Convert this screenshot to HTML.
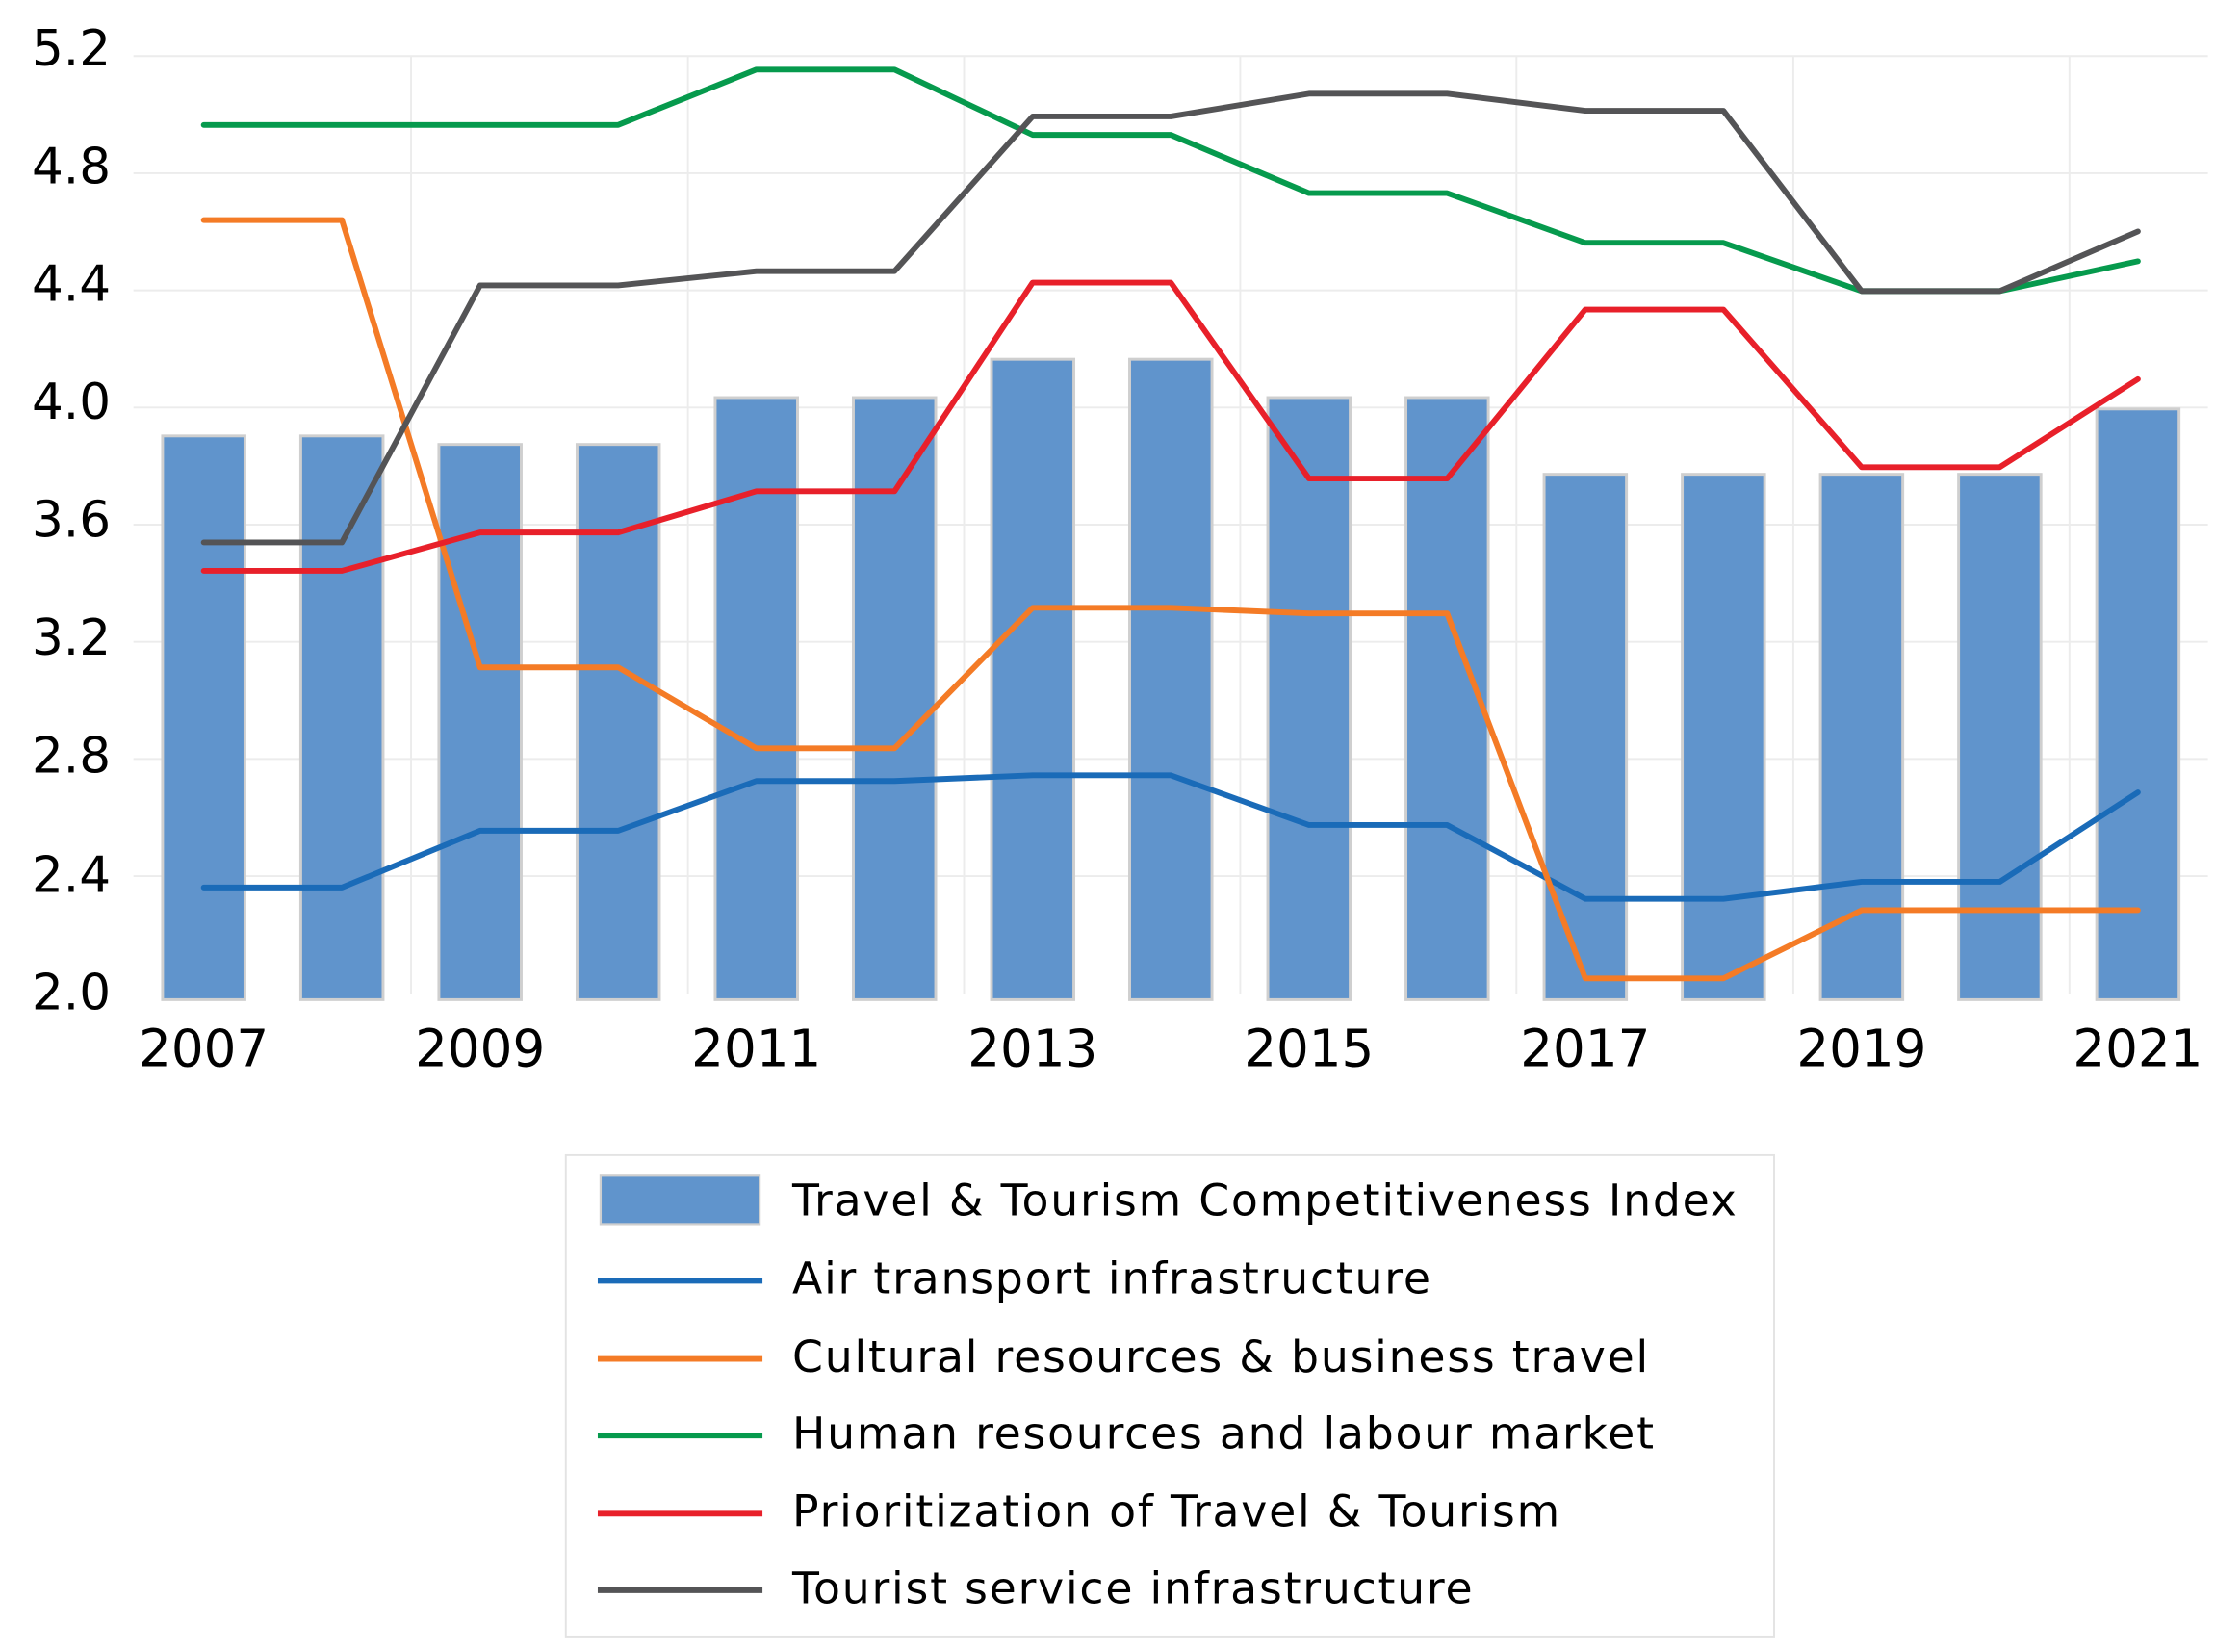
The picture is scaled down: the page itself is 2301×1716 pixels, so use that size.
<!DOCTYPE html>
<html><head><meta charset="utf-8"><style>
html,body{margin:0;padding:0;background:#fff}
svg{display:block}
text{font-family:"DejaVu Sans","Liberation Sans",sans-serif;fill:#000}
</style></head><body>
<svg width="2301" height="1716" viewBox="0 0 1560 1163.4" preserveAspectRatio="none" xmlns="http://www.w3.org/2000/svg">
<g stroke="#ececec" stroke-width="1.3">
<line x1="94" y1="39.5" x2="1555" y2="39.5"/>
<line x1="94" y1="122" x2="1555" y2="122"/>
<line x1="94" y1="204.5" x2="1555" y2="204.5"/>
<line x1="94" y1="287" x2="1555" y2="287"/>
<line x1="94" y1="369.5" x2="1555" y2="369.5"/>
<line x1="94" y1="452" x2="1555" y2="452"/>
<line x1="94" y1="534.5" x2="1555" y2="534.5"/>
<line x1="94" y1="617" x2="1555" y2="617"/>
<line x1="289.5" y1="39" x2="289.5" y2="700"/>
<line x1="484.5" y1="39" x2="484.5" y2="700"/>
<line x1="679" y1="39" x2="679" y2="700"/>
<line x1="873.5" y1="39" x2="873.5" y2="700"/>
<line x1="1068" y1="39" x2="1068" y2="700"/>
<line x1="1263" y1="39" x2="1263" y2="700"/>
<line x1="1457.5" y1="39" x2="1457.5" y2="700"/>
</g>
<g fill="#6094cc" stroke="#cfcfcf" stroke-width="2">
<rect x="114.5" y="307" width="58" height="397"/>
<rect x="211.8" y="307" width="58" height="397"/>
<rect x="309.1" y="313" width="58" height="391"/>
<rect x="406.4" y="313" width="58" height="391"/>
<rect x="503.7" y="280" width="58" height="424"/>
<rect x="601" y="280" width="58" height="424"/>
<rect x="698.3" y="253" width="58" height="451"/>
<rect x="795.6" y="253" width="58" height="451"/>
<rect x="892.9" y="280" width="58" height="424"/>
<rect x="990.2" y="280" width="58" height="424"/>
<rect x="1087.5" y="334" width="58" height="370"/>
<rect x="1184.8" y="334" width="58" height="370"/>
<rect x="1282.1" y="334" width="58" height="370"/>
<rect x="1379.4" y="334" width="58" height="370"/>
<rect x="1476.7" y="288" width="58" height="416"/>
</g>
<g fill="none" stroke-width="4" stroke-linejoin="round" stroke-linecap="round">
<polyline stroke="#1a6bb8" points="143.5,625 240.8,625 338.1,585 435.4,585 532.7,550 630,550 727.3,546 824.6,546 921.9,581 1019.2,581 1116.5,633 1213.8,633 1311.1,621 1408.4,621 1505.7,558"/>
<polyline stroke="#f47b26" points="143.5,155 240.8,155 338.1,470 435.4,470 532.7,527 630,527 727.3,428 824.6,428 921.9,432 1019.2,432 1116.5,689 1213.8,689 1311.1,641 1408.4,641 1505.7,641"/>
<polyline stroke="#069a4d" points="143.5,88 240.8,88 338.1,88 435.4,88 532.7,49 630,49 727.3,95 824.6,95 921.9,136 1019.2,136 1116.5,171 1213.8,171 1311.1,205 1408.4,205 1505.7,184"/>
<polyline stroke="#e8202a" points="143.5,402 240.8,402 338.1,375 435.4,375 532.7,346 630,346 727.3,199 824.6,199 921.9,337 1019.2,337 1116.5,218 1213.8,218 1311.1,329 1408.4,329 1505.7,267"/>
<polyline stroke="#545456" points="143.5,382 240.8,382 338.1,201 435.4,201 532.7,191 630,191 727.3,82 824.6,82 921.9,66 1019.2,66 1116.5,78 1213.8,78 1311.1,205 1408.4,205 1505.7,163"/>
</g>
<g font-size="35" text-anchor="end">
<text x="78" y="46">5.2</text>
<text x="78" y="129">4.8</text>
<text x="78" y="212">4.4</text>
<text x="78" y="295">4.0</text>
<text x="78" y="378">3.6</text>
<text x="78" y="461">3.2</text>
<text x="78" y="544">2.8</text>
<text x="78" y="628">2.4</text>
<text x="78" y="711">2.0</text>
</g>
<g font-size="36" text-anchor="middle">
<text x="143.5" y="751">2007</text>
<text x="338.1" y="751">2009</text>
<text x="532.7" y="751">2011</text>
<text x="727.3" y="751">2013</text>
<text x="921.9" y="751">2015</text>
<text x="1116.5" y="751">2017</text>
<text x="1311.1" y="751">2019</text>
<text x="1505.7" y="751">2021</text>
</g>
<rect x="398.5" y="813.5" width="851" height="339" fill="#fff" stroke="#e3e3e3" stroke-width="1.3"/>
<rect x="423" y="828" width="112" height="34" fill="#6094cc" stroke="#cfcfcf" stroke-width="1.5"/>
<g stroke-width="4">
<line x1="421" y1="902" x2="537" y2="902" stroke="#1a6bb8"/>
<line x1="421" y1="957" x2="537" y2="957" stroke="#f47b26"/>
<line x1="421" y1="1011" x2="537" y2="1011" stroke="#069a4d"/>
<line x1="421" y1="1066" x2="537" y2="1066" stroke="#e8202a"/>
<line x1="421" y1="1120" x2="537" y2="1120" stroke="#545456"/>
</g>
<g font-size="31" letter-spacing="1.2">
<text x="558" y="856">Travel &amp; Tourism Competitiveness Index</text>
<text x="558" y="911">Air transport infrastructure</text>
<text x="558" y="966">Cultural resources &amp; business travel</text>
<text x="558" y="1020">Human resources and labour market</text>
<text x="558" y="1075">Prioritization of Travel &amp; Tourism</text>
<text x="558" y="1129">Tourist service infrastructure</text>
</g>
</svg>
</body></html>
